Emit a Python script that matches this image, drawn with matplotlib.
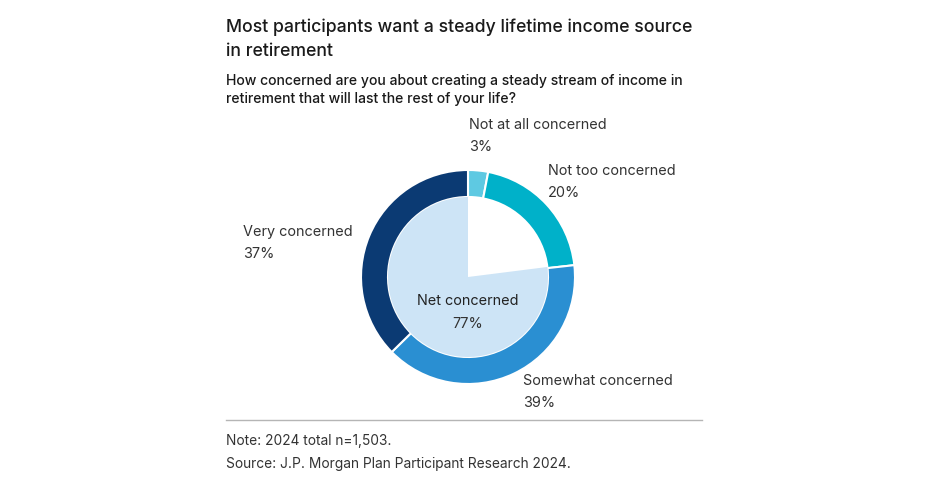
import matplotlib.pyplot as plt

plt.rcParams['font.family'] = ['Inter', 'DejaVu Sans']

# data
labels = ["Not at all concerned", "Not too concerned", "Somewhat concerned", "Very concerned"]
values = [3, 20, 39, 37]
net_label = "Net concerned"
net_value = 77

colors = ["#5ec9e2", "#00b1c9", "#2a8fd2", "#0b3a73"]
inner_color = "#cde4f6"

W, H = 930, 486
fig = plt.figure(figsize=(W / 100, H / 100), dpi=100)
fig.patch.set_facecolor("white")


def px(x, y):
    return x / W, 1 - y / H


def txt(x, y, s, color="#222222", **kw):
    fx, fy = px(x, y)
    fig.text(fx, fy, s, va="center", color=color, **kw)


# donut
cx, cy, R = 468, 277, 107
half = 112
ax = fig.add_axes([(cx - half) / W, (H - cy - half) / H, 2 * half / W, 2 * half / H])
ax.set_aspect("equal")
ax.axis("off")

ax.pie(values, colors=colors, startangle=90, counterclock=False, radius=R,
       wedgeprops=dict(width=27, edgecolor="white", linewidth=1.5))
ax.pie([100 - net_value, net_value], colors=["white", inner_color], startangle=90,
       counterclock=False, radius=R - 27, wedgeprops=dict(edgecolor="none"))
ax.set_xlim(-half, half)
ax.set_ylim(-half, half)

# titles
txt(226, 27, "Most participants want a steady lifetime income source", fontsize=12.7,
    fontweight="medium", color="#1a1a1a")
txt(226, 51, "in retirement", fontsize=12.7, fontweight="medium", color="#1a1a1a")
txt(226, 81, "How concerned are you about creating a steady stream of income in",
    fontsize=10.1, fontweight="medium", color="#1a1a1a")
txt(226, 99, "retirement that will last the rest of your life?", fontsize=10.1,
    fontweight="medium", color="#1a1a1a")

# segment labels
lab_pos = [(469, 125), (548, 171), (523, 381), (243, 232)]
for (x, y), lab, v in zip(lab_pos, labels, values):
    txt(x, y, lab, fontsize=10.4, color="#333333")
    txt(x, y + 22, f"{v}%", fontsize=10.4, color="#333333")

txt(468, 301, net_label, fontsize=10.4, ha="center")
txt(468, 324, f"{net_value}%", fontsize=10.4, ha="center", color="#333333")

# rule + footnotes
x0, y0 = px(226, 420)
x1, _ = px(702, 420)
fig.add_artist(plt.Line2D([x0, x1], [y0, y0], color="#b5b5b5", linewidth=1))
txt(226, 441, "Note: 2024 total n=1,503.", fontsize=9.9, color="#333333")
txt(226, 464, "Source: J.P. Morgan Plan Participant Research 2024.", fontsize=9.9, color="#333333")

fig.savefig("out.png", dpi=100)
